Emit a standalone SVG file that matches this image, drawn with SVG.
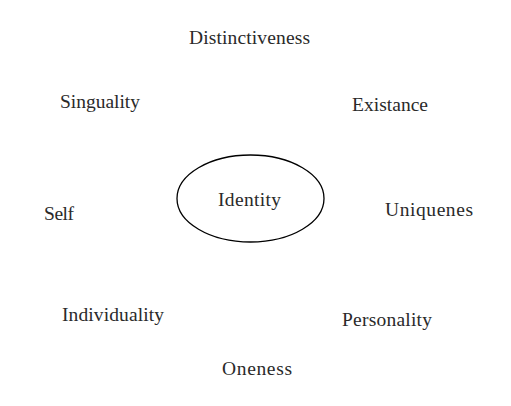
<svg xmlns="http://www.w3.org/2000/svg" width="511" height="406" viewBox="0 0 511 406">
<style>
text{font-family:"Liberation Serif","Times New Roman",serif;font-size:19.5px;fill:#2a2a2a}
.e{fill:none;stroke:#000;stroke-width:1.3}
</style>
<rect width="511" height="406" fill="#fff"/>
<g id="identity"><ellipse class="e" cx="250.5" cy="198.5" rx="73.5" ry="43.5"/><text x="218" y="206" textLength="63">Identity</text></g>
<g id="distinctiveness"><text x="189" y="44" textLength="121">Distinctiveness</text></g>
<g id="singuality"><text x="60" y="108" textLength="80">Singuality</text></g>
<g id="existance"><text x="352" y="111" textLength="76">Existance</text></g>
<g id="self"><text x="44" y="220" textLength="30">Self</text></g>
<g id="uniquenes"><text x="385" y="216" textLength="88">Uniquenes</text></g>
<g id="individuality"><text x="62" y="321" textLength="102">Individuality</text></g>
<g id="personality"><text x="342" y="326" textLength="90">Personality</text></g>
<g id="oneness"><text x="222" y="375" textLength="70">Oneness</text></g>
<g id="connectors"></g>
</svg>
